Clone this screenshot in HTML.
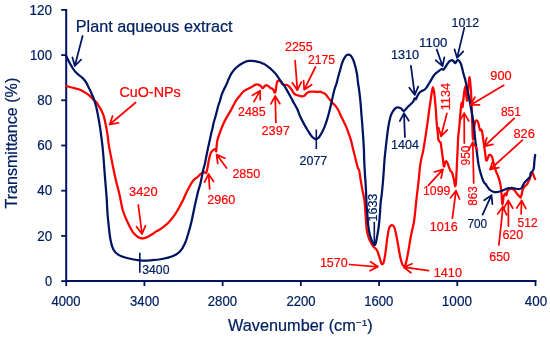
<!DOCTYPE html>
<html><head><meta charset="utf-8"><style>
html,body{margin:0;padding:0;background:#fff;}
body{width:550px;height:338px;overflow:hidden;}
svg{display:block;}
text{font-family:"Liberation Sans","DejaVu Sans",sans-serif;stroke-width:0.2px;paint-order:stroke;}
</style></head><body>
<svg width="550" height="338" viewBox="0 0 550 338">
<rect width="550" height="338" fill="#fff"/>

<path d="M66.2,9.9 V281.1 H535.5" fill="none" stroke="#001462" stroke-width="2" stroke-linecap="square"/>
<line x1="61.2" y1="281.10" x2="66.2" y2="281.10" stroke="#001462" stroke-width="1.8"/>
<line x1="61.2" y1="235.90" x2="66.2" y2="235.90" stroke="#001462" stroke-width="1.8"/>
<line x1="61.2" y1="190.70" x2="66.2" y2="190.70" stroke="#001462" stroke-width="1.8"/>
<line x1="61.2" y1="145.50" x2="66.2" y2="145.50" stroke="#001462" stroke-width="1.8"/>
<line x1="61.2" y1="100.30" x2="66.2" y2="100.30" stroke="#001462" stroke-width="1.8"/>
<line x1="61.2" y1="55.10" x2="66.2" y2="55.10" stroke="#001462" stroke-width="1.8"/>
<line x1="61.2" y1="9.90" x2="66.2" y2="9.90" stroke="#001462" stroke-width="1.8"/>
<line x1="66.20" y1="281.1" x2="66.20" y2="286.1" stroke="#001462" stroke-width="1.8"/>
<line x1="144.42" y1="281.1" x2="144.42" y2="286.1" stroke="#001462" stroke-width="1.8"/>
<line x1="222.63" y1="281.1" x2="222.63" y2="286.1" stroke="#001462" stroke-width="1.8"/>
<line x1="300.85" y1="281.1" x2="300.85" y2="286.1" stroke="#001462" stroke-width="1.8"/>
<line x1="379.07" y1="281.1" x2="379.07" y2="286.1" stroke="#001462" stroke-width="1.8"/>
<line x1="457.28" y1="281.1" x2="457.28" y2="286.1" stroke="#001462" stroke-width="1.8"/>
<line x1="535.50" y1="281.1" x2="535.50" y2="286.1" stroke="#001462" stroke-width="1.8"/>
<path d="M66.20,86.00 C66.82,86.17 68.53,86.63 69.90,87.00 C71.27,87.37 72.92,87.82 74.40,88.20 C75.88,88.58 77.32,88.75 78.80,89.30 C80.28,89.85 81.82,90.70 83.30,91.50 C84.78,92.30 86.35,93.12 87.70,94.10 C89.05,95.08 90.35,96.38 91.40,97.40 C92.45,98.42 93.13,99.35 94.00,100.20 C94.87,101.05 95.72,101.37 96.60,102.50 C97.48,103.63 98.42,105.52 99.30,107.00 C100.18,108.48 101.17,109.93 101.90,111.40 C102.63,112.87 103.18,114.17 103.70,115.80 C104.22,117.43 104.55,119.12 105.00,121.20 C105.45,123.28 105.97,126.00 106.40,128.30 C106.83,130.60 107.20,132.22 107.60,135.00 C108.00,137.78 108.38,142.17 108.80,145.00 C109.22,147.83 109.48,148.80 110.10,152.00 C110.72,155.20 111.52,159.40 112.50,164.20 C113.48,169.00 114.82,175.67 116.00,180.80 C117.18,185.93 118.47,190.08 119.60,195.00 C120.73,199.92 121.58,206.02 122.80,210.30 C124.02,214.58 125.35,217.25 126.90,220.70 C128.45,224.15 130.75,228.70 132.10,231.00 C133.45,233.30 134.10,233.55 135.00,234.50 C135.90,235.45 136.60,236.10 137.50,236.70 C138.40,237.30 139.28,237.87 140.40,238.10 C141.52,238.33 142.92,238.33 144.20,238.10 C145.48,237.87 146.65,237.42 148.10,236.70 C149.55,235.98 151.60,234.65 152.90,233.80 C154.20,232.95 154.93,232.20 155.90,231.60 C156.87,231.00 157.67,230.82 158.70,230.20 C159.73,229.58 160.50,229.13 162.10,227.90 C163.70,226.67 166.20,224.98 168.30,222.80 C170.40,220.62 173.02,217.12 174.70,214.80 C176.38,212.48 177.30,210.78 178.40,208.90 C179.50,207.02 180.43,205.15 181.30,203.50 C182.17,201.85 182.88,200.53 183.60,199.00 C184.32,197.47 184.78,196.07 185.60,194.30 C186.42,192.53 187.55,190.23 188.50,188.40 C189.45,186.57 190.37,184.77 191.30,183.30 C192.23,181.83 193.03,180.68 194.10,179.60 C195.17,178.52 196.63,177.70 197.70,176.80 C198.77,175.90 199.55,174.95 200.50,174.20 C201.45,173.45 202.62,172.57 203.40,172.30 C204.18,172.03 204.73,172.52 205.20,172.60 C205.67,172.68 205.83,173.48 206.20,172.80 C206.57,172.12 207.02,170.30 207.40,168.50 C207.78,166.70 207.97,164.53 208.50,162.00 C209.03,159.47 209.80,155.30 210.60,153.30 C211.40,151.30 212.52,150.67 213.30,150.00 C214.08,149.33 214.82,149.08 215.30,149.30 C215.78,149.52 215.97,151.97 216.20,151.30 C216.43,150.63 216.47,147.27 216.70,145.30 C216.93,143.33 217.08,141.57 217.60,139.50 C218.12,137.43 218.85,135.48 219.80,132.90 C220.75,130.32 222.12,126.67 223.30,124.00 C224.48,121.33 225.58,119.27 226.90,116.90 C228.22,114.53 229.68,112.52 231.20,109.80 C232.72,107.08 234.62,102.87 236.00,100.60 C237.38,98.33 238.32,97.68 239.50,96.20 C240.68,94.72 241.92,92.82 243.10,91.70 C244.28,90.58 245.27,90.23 246.60,89.50 C247.93,88.77 249.62,88.12 251.10,87.30 C252.58,86.48 254.32,85.05 255.50,84.60 C256.68,84.15 257.32,84.37 258.20,84.60 C259.08,84.83 260.07,85.40 260.80,86.00 C261.53,86.60 261.93,88.20 262.60,88.20 C263.27,88.20 264.13,86.52 264.80,86.00 C265.47,85.48 265.93,85.03 266.60,85.10 C267.27,85.17 268.13,85.88 268.80,86.40 C269.47,86.92 270.00,87.83 270.60,88.20 C271.20,88.57 271.88,88.23 272.40,88.60 C272.92,88.97 273.33,89.73 273.70,90.40 C274.07,91.07 274.30,92.38 274.60,92.60 C274.90,92.82 275.20,92.88 275.50,91.70 C275.80,90.52 276.10,87.20 276.40,85.50 C276.70,83.80 276.93,82.30 277.30,81.50 C277.67,80.70 278.08,80.72 278.60,80.70 C279.12,80.68 279.77,80.85 280.40,81.40 C281.03,81.95 281.72,83.40 282.40,84.00 C283.08,84.60 283.72,84.83 284.50,85.00 C285.28,85.17 286.23,84.65 287.10,85.00 C287.97,85.35 288.93,86.32 289.70,87.10 C290.47,87.88 291.02,88.67 291.70,89.70 C292.38,90.73 293.10,92.45 293.80,93.30 C294.50,94.15 295.20,94.45 295.90,94.80 C296.60,95.15 297.32,95.22 298.00,95.40 C298.68,95.58 299.32,95.73 300.00,95.90 C300.68,96.07 301.40,96.40 302.10,96.40 C302.80,96.40 303.60,96.25 304.20,95.90 C304.80,95.55 305.18,94.82 305.70,94.30 C306.22,93.78 306.70,93.20 307.30,92.80 C307.90,92.40 308.62,92.08 309.30,91.90 C309.98,91.72 310.53,91.73 311.40,91.70 C312.27,91.67 313.47,91.67 314.50,91.70 C315.53,91.73 316.68,91.90 317.60,91.90 C318.52,91.90 319.32,91.65 320.00,91.70 C320.68,91.75 320.82,91.82 321.70,92.20 C322.58,92.58 324.12,92.97 325.30,94.00 C326.48,95.03 327.62,96.93 328.80,98.40 C329.98,99.87 331.22,101.47 332.40,102.80 C333.58,104.13 334.87,105.07 335.90,106.40 C336.93,107.73 337.67,109.02 338.60,110.80 C339.53,112.58 340.43,114.87 341.50,117.10 C342.57,119.33 344.02,122.08 345.00,124.20 C345.98,126.32 346.45,127.27 347.40,129.80 C348.35,132.33 349.72,136.03 350.70,139.40 C351.68,142.77 352.42,146.45 353.30,150.00 C354.18,153.55 355.25,157.73 356.00,160.70 C356.75,163.67 357.27,166.18 357.80,167.80 C358.33,169.42 358.77,168.63 359.20,170.40 C359.63,172.17 359.90,175.30 360.40,178.40 C360.90,181.50 361.53,185.40 362.20,189.00 C362.87,192.60 363.83,195.70 364.40,200.00 C364.97,204.30 365.22,209.87 365.60,214.80 C365.98,219.73 366.15,225.65 366.70,229.60 C367.25,233.55 368.03,236.03 368.90,238.50 C369.77,240.97 371.12,243.02 371.90,244.40 C372.68,245.78 372.78,245.87 373.60,246.80 C374.42,247.73 375.87,248.40 376.80,250.00 C377.73,251.60 378.53,254.40 379.20,256.40 C379.87,258.40 380.27,260.67 380.80,262.00 C381.33,263.33 381.87,264.53 382.40,264.40 C382.93,264.27 383.47,263.33 384.00,261.20 C384.53,259.07 385.07,255.33 385.60,251.60 C386.13,247.87 386.67,242.53 387.20,238.80 C387.73,235.07 388.27,231.33 388.80,229.20 C389.33,227.07 389.78,226.67 390.40,226.00 C391.02,225.33 391.83,224.93 392.50,225.20 C393.17,225.47 393.82,226.13 394.40,227.60 C394.98,229.07 395.47,231.60 396.00,234.00 C396.53,236.40 397.07,239.07 397.60,242.00 C398.13,244.93 398.67,248.67 399.20,251.60 C399.73,254.53 400.27,257.47 400.80,259.60 C401.33,261.73 401.87,263.33 402.40,264.40 C402.93,265.47 403.47,266.00 404.00,266.00 C404.53,266.00 404.93,266.53 405.60,264.40 C406.27,262.27 407.20,257.47 408.00,253.20 C408.80,248.93 409.73,242.53 410.40,238.80 C411.07,235.07 411.40,233.63 412.00,230.80 C412.60,227.97 413.43,225.35 414.00,221.80 C414.57,218.25 414.97,213.48 415.40,209.50 C415.83,205.52 416.08,202.50 416.60,197.90 C417.12,193.30 417.92,187.22 418.50,181.90 C419.08,176.58 419.60,169.98 420.10,166.00 C420.60,162.02 421.03,160.27 421.50,158.00 C421.97,155.73 422.37,155.12 422.90,152.40 C423.43,149.68 424.10,145.45 424.70,141.70 C425.30,137.95 425.97,133.52 426.50,129.90 C427.03,126.28 427.47,123.20 427.90,120.00 C428.33,116.80 428.70,113.62 429.10,110.70 C429.50,107.78 429.90,105.25 430.30,102.50 C430.70,99.75 431.17,96.37 431.50,94.20 C431.83,92.03 432.07,90.68 432.30,89.50 C432.53,88.32 432.68,87.10 432.90,87.10 C433.12,87.10 433.35,88.32 433.60,89.50 C433.85,90.68 434.13,92.03 434.40,94.20 C434.67,96.37 434.95,99.75 435.20,102.50 C435.45,105.25 435.70,107.95 435.90,110.70 C436.10,113.45 436.23,116.53 436.40,119.00 C436.57,121.47 436.68,123.30 436.90,125.50 C437.12,127.70 437.47,129.95 437.70,132.20 C437.93,134.45 438.00,137.42 438.30,139.00 C438.60,140.58 439.10,141.05 439.50,141.70 C439.90,142.35 440.37,141.72 440.70,142.90 C441.03,144.08 441.20,146.62 441.50,148.80 C441.80,150.98 442.25,154.22 442.50,156.00 C442.75,157.78 442.75,157.73 443.00,159.50 C443.25,161.27 443.62,166.15 444.00,166.60 C444.38,167.05 444.88,163.08 445.30,162.20 C445.72,161.32 446.07,161.00 446.50,161.30 C446.93,161.60 447.42,162.82 447.90,164.00 C448.38,165.18 448.95,167.22 449.40,168.40 C449.85,169.58 450.20,170.50 450.60,171.10 C451.00,171.70 451.42,171.27 451.80,172.00 C452.18,172.73 452.50,173.98 452.90,175.50 C453.30,177.02 453.88,179.55 454.20,181.10 C454.52,182.65 454.60,183.97 454.80,184.80 C455.00,185.63 455.20,186.52 455.40,186.10 C455.60,185.68 455.83,184.17 456.00,182.30 C456.17,180.43 456.25,177.80 456.40,174.90 C456.55,172.00 456.75,168.02 456.90,164.90 C457.05,161.78 457.17,159.02 457.30,156.20 C457.43,153.38 457.55,151.20 457.70,148.00 C457.85,144.80 457.93,140.53 458.20,137.00 C458.47,133.47 458.92,130.97 459.30,126.80 C459.68,122.63 460.10,116.02 460.50,112.00 C460.90,107.98 461.35,103.53 461.70,102.70 C462.05,101.87 462.30,107.78 462.60,107.00 C462.90,106.22 463.07,101.43 463.50,98.00 C463.93,94.57 464.70,86.40 465.20,86.40 C465.70,86.40 466.15,95.73 466.50,98.00 C466.85,100.27 467.00,101.67 467.30,100.00 C467.60,98.33 467.92,91.82 468.30,88.00 C468.68,84.18 469.17,76.77 469.60,77.10 C470.03,77.43 470.57,85.35 470.90,90.00 C471.23,94.65 471.37,99.17 471.60,105.00 C471.83,110.83 472.10,119.50 472.30,125.00 C472.50,130.50 472.58,135.83 472.80,138.00 C473.02,140.17 473.33,140.00 473.60,138.00 C473.87,136.00 474.12,128.75 474.40,126.00 C474.68,123.25 474.85,122.40 475.30,121.50 C475.75,120.60 476.58,120.30 477.10,120.60 C477.62,120.90 478.03,122.12 478.40,123.30 C478.77,124.48 479.00,126.52 479.30,127.70 C479.60,128.88 479.90,130.10 480.20,130.40 C480.50,130.70 480.80,129.35 481.10,129.50 C481.40,129.65 481.63,129.55 482.00,131.30 C482.37,133.05 482.93,137.48 483.30,140.00 C483.67,142.52 483.90,144.30 484.20,146.40 C484.50,148.50 484.75,150.25 485.10,152.60 C485.45,154.95 485.85,159.57 486.30,160.50 C486.75,161.43 487.28,159.13 487.80,158.20 C488.32,157.27 488.72,155.17 489.40,154.90 C490.08,154.63 491.20,155.22 491.90,156.60 C492.60,157.98 493.05,161.13 493.60,163.20 C494.15,165.27 494.72,167.45 495.20,169.00 C495.68,170.55 495.97,171.17 496.50,172.50 C497.03,173.83 497.88,175.58 498.40,177.00 C498.92,178.42 499.23,179.58 499.60,181.00 C499.97,182.42 500.28,183.42 500.60,185.50 C500.92,187.58 501.27,190.98 501.50,193.50 C501.73,196.02 501.82,198.77 502.00,200.60 C502.18,202.43 502.40,204.60 502.60,204.50 C502.80,204.40 503.02,201.38 503.20,200.00 C503.38,198.62 503.38,197.28 503.70,196.20 C504.02,195.12 504.65,193.65 505.10,193.50 C505.55,193.35 506.03,195.60 506.40,195.30 C506.77,195.00 507.00,192.58 507.30,191.70 C507.60,190.82 507.75,190.43 508.20,190.00 C508.65,189.57 509.27,189.25 510.00,189.10 C510.73,188.95 511.87,188.95 512.60,189.10 C513.33,189.25 513.80,189.42 514.40,190.00 C515.00,190.58 515.60,191.78 516.20,192.60 C516.80,193.42 517.42,194.23 518.00,194.90 C518.58,195.57 519.27,196.17 519.70,196.60 C520.13,197.03 520.30,197.72 520.60,197.50 C520.90,197.28 521.20,196.40 521.50,195.30 C521.80,194.20 522.10,192.08 522.40,190.90 C522.70,189.72 522.93,188.95 523.30,188.20 C523.67,187.45 524.17,186.85 524.60,186.40 C525.03,185.95 525.45,185.93 525.90,185.50 C526.35,185.07 526.85,184.53 527.30,183.80 C527.75,183.07 528.15,182.00 528.60,181.10 C529.05,180.20 529.63,179.32 530.00,178.40 C530.37,177.48 530.37,176.52 530.80,175.60 C531.23,174.68 532.02,172.62 532.60,172.90 C533.18,173.18 533.87,176.27 534.30,177.30 C534.73,178.33 535.05,178.80 535.20,179.10" fill="none" stroke="#FF0000" stroke-width="2.25" stroke-linejoin="round" stroke-linecap="round"/>
<path d="M66.20,55.90 C66.57,56.65 67.65,58.92 68.40,60.40 C69.15,61.88 69.95,63.45 70.70,64.80 C71.45,66.15 72.17,67.38 72.90,68.50 C73.63,69.62 74.23,70.52 75.10,71.50 C75.97,72.48 77.12,73.53 78.10,74.40 C79.08,75.27 80.02,75.83 81.00,76.70 C81.98,77.57 83.13,78.62 84.00,79.60 C84.87,80.58 85.47,81.37 86.20,82.60 C86.93,83.83 87.65,85.52 88.40,87.00 C89.15,88.48 89.95,89.88 90.70,91.50 C91.45,93.12 92.28,95.20 92.90,96.70 C93.52,98.20 93.78,98.52 94.40,100.50 C95.02,102.48 95.93,105.75 96.60,108.60 C97.27,111.45 97.80,114.32 98.40,117.60 C99.00,120.88 99.52,123.52 100.20,128.30 C100.88,133.08 101.92,141.02 102.50,146.30 C103.08,151.58 103.33,155.43 103.70,160.00 C104.07,164.57 104.22,167.48 104.70,173.70 C105.18,179.92 106.15,190.92 106.60,197.30 C107.05,203.68 107.12,207.88 107.40,212.00 C107.68,216.12 107.80,217.45 108.30,222.00 C108.80,226.55 109.53,234.68 110.40,239.30 C111.27,243.92 112.13,247.10 113.50,249.70 C114.87,252.30 116.37,253.52 118.60,254.90 C120.83,256.28 123.45,257.08 126.90,258.00 C130.35,258.92 135.15,260.03 139.30,260.40 C143.45,260.77 148.00,260.43 151.80,260.20 C155.60,259.97 158.65,259.65 162.10,259.00 C165.55,258.35 169.57,257.50 172.50,256.30 C175.43,255.10 177.63,253.93 179.70,251.80 C181.77,249.67 183.35,246.97 184.90,243.50 C186.45,240.03 187.87,234.80 189.00,231.00 C190.13,227.20 190.95,223.88 191.70,220.70 C192.45,217.52 192.90,214.77 193.50,211.90 C194.10,209.03 194.80,205.77 195.30,203.50 C195.80,201.23 196.02,200.38 196.50,198.30 C196.98,196.22 197.57,193.38 198.20,191.00 C198.83,188.62 199.70,186.33 200.30,184.00 C200.90,181.67 201.32,179.33 201.80,177.00 C202.28,174.67 202.70,172.17 203.20,170.00 C203.70,167.83 204.33,166.00 204.80,164.00 C205.27,162.00 205.60,160.00 206.00,158.00 C206.40,156.00 206.75,154.17 207.20,152.00 C207.65,149.83 208.22,147.22 208.70,145.00 C209.18,142.78 209.63,140.82 210.10,138.70 C210.57,136.58 211.08,134.08 211.50,132.30 C211.92,130.52 212.25,129.55 212.60,128.00 C212.95,126.45 213.13,124.88 213.60,123.00 C214.07,121.12 214.82,118.82 215.40,116.70 C215.98,114.58 216.63,112.08 217.10,110.30 C217.57,108.52 217.73,107.55 218.20,106.00 C218.67,104.45 219.32,102.88 219.90,101.00 C220.48,99.12 221.05,96.58 221.70,94.70 C222.35,92.82 223.00,91.42 223.80,89.70 C224.60,87.98 225.68,86.18 226.50,84.40 C227.32,82.62 227.90,80.78 228.70,79.00 C229.50,77.22 230.27,75.38 231.30,73.70 C232.33,72.02 233.72,70.22 234.90,68.90 C236.08,67.58 237.22,66.70 238.40,65.80 C239.58,64.90 240.82,64.17 242.00,63.50 C243.18,62.83 244.33,62.23 245.50,61.80 C246.67,61.37 247.82,61.07 249.00,60.90 C250.18,60.73 251.42,60.73 252.60,60.80 C253.78,60.87 254.92,61.07 256.10,61.30 C257.28,61.53 258.72,61.88 259.70,62.20 C260.68,62.52 261.10,62.80 262.00,63.20 C262.90,63.60 264.00,63.95 265.10,64.60 C266.20,65.25 267.42,66.17 268.60,67.10 C269.78,68.03 271.02,69.07 272.20,70.20 C273.38,71.33 274.67,72.65 275.70,73.90 C276.73,75.15 277.52,76.47 278.40,77.70 C279.28,78.93 280.40,80.43 281.00,81.30 C281.60,82.17 281.38,82.05 282.00,82.90 C282.62,83.75 283.82,85.07 284.70,86.40 C285.58,87.73 286.42,89.35 287.30,90.90 C288.18,92.45 289.12,94.08 290.00,95.70 C290.88,97.32 291.72,98.97 292.60,100.60 C293.48,102.23 294.48,104.02 295.30,105.50 C296.12,106.98 296.72,107.75 297.50,109.50 C298.28,111.25 299.08,113.90 300.00,116.00 C300.92,118.10 301.98,120.17 303.00,122.10 C304.02,124.03 305.08,125.85 306.10,127.60 C307.12,129.35 308.10,131.08 309.10,132.60 C310.10,134.12 311.18,135.68 312.10,136.70 C313.02,137.72 313.93,138.28 314.60,138.70 C315.27,139.12 315.52,139.28 316.10,139.20 C316.68,139.12 317.43,138.78 318.10,138.20 C318.77,137.62 319.33,136.88 320.10,135.70 C320.87,134.52 321.85,132.87 322.70,131.10 C323.55,129.33 324.45,127.10 325.20,125.10 C325.95,123.10 326.53,121.28 327.20,119.10 C327.87,116.92 328.67,114.02 329.20,112.00 C329.73,109.98 329.97,108.83 330.40,107.00 C330.83,105.17 331.15,103.83 331.80,101.00 C332.45,98.17 333.50,92.97 334.30,90.00 C335.10,87.03 335.97,85.33 336.60,83.20 C337.23,81.07 337.52,79.38 338.10,77.20 C338.68,75.02 339.43,72.45 340.10,70.10 C340.77,67.75 341.43,65.02 342.10,63.10 C342.77,61.18 343.43,59.87 344.10,58.60 C344.77,57.33 345.35,56.18 346.10,55.50 C346.85,54.82 347.85,54.50 348.60,54.50 C349.35,54.50 349.93,54.82 350.60,55.50 C351.27,56.18 352.00,57.42 352.60,58.60 C353.20,59.78 353.68,61.02 354.20,62.60 C354.72,64.18 355.20,66.00 355.70,68.10 C356.20,70.20 356.83,72.88 357.20,75.20 C357.57,77.52 357.60,79.68 357.90,82.00 C358.20,84.32 358.65,86.53 359.00,89.10 C359.35,91.67 359.70,94.63 360.00,97.40 C360.30,100.17 360.57,102.93 360.80,105.70 C361.03,108.47 361.20,111.45 361.40,114.00 C361.60,116.55 361.77,118.02 362.00,121.00 C362.23,123.98 362.53,128.12 362.80,131.90 C363.07,135.68 363.40,140.35 363.60,143.70 C363.80,147.05 363.90,149.28 364.00,152.00 C364.10,154.72 364.07,156.70 364.20,160.00 C364.33,163.30 364.57,167.85 364.80,171.80 C365.03,175.75 365.37,179.75 365.60,183.70 C365.83,187.65 366.03,191.95 366.20,195.50 C366.37,199.05 366.42,201.92 366.60,205.00 C366.78,208.08 367.02,210.50 367.30,214.00 C367.58,217.50 367.85,222.42 368.30,226.00 C368.75,229.58 369.22,232.62 370.00,235.50 C370.78,238.38 372.25,241.72 373.00,243.30 C373.75,244.88 374.07,244.92 374.50,245.00 C374.93,245.08 375.13,245.38 375.60,243.80 C376.07,242.22 376.77,238.47 377.30,235.50 C377.83,232.53 378.37,229.58 378.80,226.00 C379.23,222.42 379.60,217.83 379.90,214.00 C380.20,210.17 380.32,206.08 380.60,203.00 C380.88,199.92 381.23,198.72 381.60,195.50 C381.97,192.28 382.45,187.65 382.80,183.70 C383.15,179.75 383.42,175.75 383.70,171.80 C383.98,167.85 384.23,163.30 384.50,160.00 C384.77,156.70 384.97,155.13 385.30,152.00 C385.63,148.87 386.00,145.37 386.50,141.20 C387.00,137.03 387.62,131.15 388.30,127.00 C388.98,122.85 389.82,118.95 390.60,116.30 C391.38,113.65 392.00,112.57 393.00,111.10 C394.00,109.63 395.60,108.08 396.60,107.50 C397.60,106.92 398.22,107.40 399.00,107.60 C399.78,107.80 400.52,108.12 401.30,108.70 C402.08,109.28 402.90,111.10 403.70,111.10 C404.50,111.10 405.12,109.68 406.10,108.70 C407.08,107.72 408.42,106.38 409.60,105.20 C410.78,104.02 412.37,102.73 413.20,101.60 C414.03,100.47 414.17,98.78 414.60,98.40 C415.03,98.02 415.38,99.63 415.80,99.30 C416.22,98.97 416.62,97.33 417.10,96.40 C417.58,95.47 418.10,94.48 418.70,93.70 C419.30,92.92 419.93,92.27 420.70,91.70 C421.47,91.13 422.53,90.75 423.30,90.30 C424.07,89.85 424.63,89.67 425.30,89.00 C425.97,88.33 426.63,87.30 427.30,86.30 C427.97,85.30 428.63,84.10 429.30,83.00 C429.97,81.90 430.63,80.82 431.30,79.70 C431.97,78.58 432.63,77.30 433.30,76.30 C433.97,75.30 434.52,74.47 435.30,73.70 C436.08,72.93 437.18,72.33 438.00,71.70 C438.82,71.07 439.52,70.35 440.20,69.90 C440.88,69.45 441.53,69.05 442.10,69.00 C442.67,68.95 443.08,69.88 443.60,69.60 C444.12,69.32 444.60,68.20 445.20,67.30 C445.80,66.40 446.52,65.18 447.20,64.20 C447.88,63.22 448.60,62.05 449.30,61.40 C450.00,60.75 450.80,60.45 451.40,60.30 C452.00,60.15 452.38,60.12 452.90,60.50 C453.42,60.88 454.07,62.17 454.50,62.60 C454.93,63.03 455.15,63.35 455.50,63.10 C455.85,62.85 456.17,61.62 456.60,61.10 C457.03,60.58 457.58,59.92 458.10,60.00 C458.62,60.08 459.18,60.82 459.70,61.60 C460.22,62.38 460.77,63.50 461.20,64.70 C461.63,65.90 461.95,67.42 462.30,68.80 C462.65,70.18 462.97,71.70 463.30,73.00 C463.63,74.30 463.95,75.35 464.30,76.60 C464.65,77.85 464.83,78.12 465.40,80.50 C465.97,82.88 466.93,87.18 467.70,90.90 C468.47,94.62 469.22,98.65 470.00,102.80 C470.78,106.95 471.80,112.27 472.40,115.80 C473.00,119.33 473.12,119.97 473.60,124.00 C474.08,128.03 474.73,135.12 475.30,140.00 C475.87,144.88 476.45,149.15 477.00,153.30 C477.55,157.45 477.92,161.32 478.60,164.90 C479.28,168.48 480.28,172.03 481.10,174.80 C481.92,177.57 482.68,179.87 483.50,181.50 C484.32,183.13 485.28,183.63 486.00,184.60 C486.72,185.57 487.13,186.40 487.80,187.30 C488.47,188.20 489.12,189.27 490.00,190.00 C490.88,190.73 492.00,191.33 493.10,191.70 C494.20,192.07 495.42,192.27 496.60,192.20 C497.78,192.13 499.02,191.67 500.20,191.30 C501.38,190.93 502.52,190.45 503.70,190.00 C504.88,189.55 505.97,188.97 507.30,188.60 C508.63,188.23 510.37,187.80 511.70,187.80 C513.03,187.80 514.12,188.38 515.30,188.60 C516.48,188.82 517.77,189.17 518.80,189.10 C519.83,189.03 520.75,188.95 521.50,188.20 C522.25,187.45 522.72,185.63 523.30,184.60 C523.88,183.57 524.42,182.73 525.00,182.00 C525.58,181.27 526.20,180.80 526.80,180.20 C527.40,179.60 528.07,178.98 528.60,178.40 C529.13,177.82 529.63,177.60 530.00,176.70 C530.37,175.80 530.37,173.95 530.80,173.00 C531.23,172.05 532.10,171.77 532.60,171.00 C533.10,170.23 533.48,170.23 533.80,168.40 C534.12,166.57 534.27,162.23 534.50,160.00 C534.73,157.77 535.08,155.83 535.20,155.00" fill="none" stroke="#001462" stroke-width="2.25" stroke-linejoin="round" stroke-linecap="round"/>
<path d="M82.6,36.0 L74.8,66.0 M81.1,59.6 L74.8,66.0 L72.4,57.3" fill="none" stroke="#001462" stroke-width="1.75" stroke-linecap="round" stroke-linejoin="round"/>
<path d="M135.6,102.5 L109.6,124.5 M118.5,122.9 L109.6,124.5 L112.6,116.0" fill="none" stroke="#FF0000" stroke-width="1.75" stroke-linecap="round" stroke-linejoin="round"/>
<path d="M138.3,205.0 L142.0,234.0 M145.5,225.7 L142.0,234.0 L136.5,226.8" fill="none" stroke="#FF0000" stroke-width="1.75" stroke-linecap="round" stroke-linejoin="round"/>
<path d="M209.7,189.0 L208.5,174.0 M204.6,182.1 L208.5,174.0 L213.6,181.4" fill="none" stroke="#FF0000" stroke-width="1.75" stroke-linecap="round" stroke-linejoin="round"/>
<path d="M226.6,168.0 L216.6,154.6 M217.7,163.5 L216.6,154.6 L224.9,158.2" fill="none" stroke="#FF0000" stroke-width="1.75" stroke-linecap="round" stroke-linejoin="round"/>
<path d="M254.0,101.7 L260.1,90.7 M252.4,95.3 L260.1,90.7 L260.3,99.7" fill="none" stroke="#FF0000" stroke-width="1.75" stroke-linecap="round" stroke-linejoin="round"/>
<path d="M275.9,122.4 L275.2,96.0 M270.9,103.9 L275.2,96.0 L279.9,103.7" fill="none" stroke="#FF0000" stroke-width="1.75" stroke-linecap="round" stroke-linejoin="round"/>
<path d="M295.1,60.7 L297.4,90.2 M301.3,82.1 L297.4,90.2 L292.3,82.8" fill="none" stroke="#FF0000" stroke-width="1.75" stroke-linecap="round" stroke-linejoin="round"/>
<path d="M315.5,67.0 L304.2,89.7 M311.7,84.7 L304.2,89.7 L303.6,80.7" fill="none" stroke="#FF0000" stroke-width="1.75" stroke-linecap="round" stroke-linejoin="round"/>
<path d="M349.5,264.5 L378.0,266.8 M370.6,261.7 L378.0,266.8 L369.9,270.7" fill="none" stroke="#FF0000" stroke-width="1.75" stroke-linecap="round" stroke-linejoin="round"/>
<path d="M428.6,270.6 L403.8,267.2 M410.9,272.7 L403.8,267.2 L412.1,263.8" fill="none" stroke="#FF0000" stroke-width="1.75" stroke-linecap="round" stroke-linejoin="round"/>
<path d="M410.9,65.9 L414.8,94.9 M418.2,86.6 L414.8,94.9 L409.3,87.8" fill="none" stroke="#001462" stroke-width="1.75" stroke-linecap="round" stroke-linejoin="round"/>
<path d="M436.8,49.6 L442.6,66.2 M444.3,57.4 L442.6,66.2 L435.8,60.3" fill="none" stroke="#001462" stroke-width="1.75" stroke-linecap="round" stroke-linejoin="round"/>
<path d="M464.3,27.9 L457.1,57.9 M463.3,51.4 L457.1,57.9 L454.5,49.3" fill="none" stroke="#001462" stroke-width="1.75" stroke-linecap="round" stroke-linejoin="round"/>
<path d="M404.9,137.0 L404.0,113.1 M399.8,121.1 L404.0,113.1 L408.8,120.7" fill="none" stroke="#001462" stroke-width="1.75" stroke-linecap="round" stroke-linejoin="round"/>
<path d="M446.9,113.4 L441.0,136.3 M447.3,129.9 L441.0,136.3 L438.6,127.6" fill="none" stroke="#FF0000" stroke-width="1.75" stroke-linecap="round" stroke-linejoin="round"/>
<path d="M428.4,185.3 L443.0,169.3 M434.4,172.0 L443.0,169.3 L441.1,178.1" fill="none" stroke="#FF0000" stroke-width="1.75" stroke-linecap="round" stroke-linejoin="round"/>
<path d="M452.4,218.2 L456.0,190.7 M450.5,197.8 L456.0,190.7 L459.5,199.0" fill="none" stroke="#FF0000" stroke-width="1.75" stroke-linecap="round" stroke-linejoin="round"/>
<path d="M464.3,143.0 L464.2,113.1 M459.7,120.9 L464.2,113.1 L468.7,120.9" fill="none" stroke="#FF0000" stroke-width="1.75" stroke-linecap="round" stroke-linejoin="round"/>
<path d="M503.8,85.3 L470.5,105.0 M479.5,104.9 L470.5,105.0 L474.9,97.2" fill="none" stroke="#FF0000" stroke-width="1.75" stroke-linecap="round" stroke-linejoin="round"/>
<path d="M473.7,183.0 L472.8,142.2 M468.5,150.1 L472.8,142.2 L477.5,149.9" fill="none" stroke="#FF0000" stroke-width="1.75" stroke-linecap="round" stroke-linejoin="round"/>
<path d="M514.2,118.4 L484.2,146.4 M493.0,144.4 L484.2,146.4 L486.8,137.8" fill="none" stroke="#FF0000" stroke-width="1.75" stroke-linecap="round" stroke-linejoin="round"/>
<path d="M522.4,140.2 L490.0,169.5 M498.8,167.6 L490.0,169.5 L492.8,160.9" fill="none" stroke="#FF0000" stroke-width="1.75" stroke-linecap="round" stroke-linejoin="round"/>
<path d="M482.6,214.6 L491.5,195.1 M484.2,200.3 L491.5,195.1 L492.4,204.1" fill="none" stroke="#001462" stroke-width="1.75" stroke-linecap="round" stroke-linejoin="round"/>
<path d="M498.9,245.0 L503.0,206.6 M497.7,213.9 L503.0,206.6 L506.6,214.8" fill="none" stroke="#FF0000" stroke-width="1.75" stroke-linecap="round" stroke-linejoin="round"/>
<path d="M508.4,226.1 L508.3,200.4 M503.8,208.2 L508.3,200.4 L512.8,208.2" fill="none" stroke="#FF0000" stroke-width="1.75" stroke-linecap="round" stroke-linejoin="round"/>
<path d="M521.1,213.9 L521.6,200.4 M516.8,208.0 L521.6,200.4 L525.8,208.4" fill="none" stroke="#FF0000" stroke-width="1.75" stroke-linecap="round" stroke-linejoin="round"/>
<line x1="139.8" y1="252.8" x2="139.8" y2="272.7" stroke="#001462" stroke-width="1.6"/>
<line x1="316.3" y1="129.5" x2="316.3" y2="149" stroke="#001462" stroke-width="1.6"/>
<line x1="374.3" y1="221.8" x2="374.3" y2="245" stroke="#001462" stroke-width="1.6"/>
<text x="45.10" y="285.80" font-size="14.00" fill="#002060" stroke="#002060" textLength="7.13" lengthAdjust="spacingAndGlyphs">0</text>
<text x="37.20" y="240.60" font-size="14.00" fill="#002060" stroke="#002060" textLength="14.93" lengthAdjust="spacingAndGlyphs">20</text>
<text x="37.20" y="195.40" font-size="14.00" fill="#002060" stroke="#002060" textLength="14.93" lengthAdjust="spacingAndGlyphs">40</text>
<text x="37.20" y="150.20" font-size="14.00" fill="#002060" stroke="#002060" textLength="14.93" lengthAdjust="spacingAndGlyphs">60</text>
<text x="37.20" y="105.00" font-size="14.00" fill="#002060" stroke="#002060" textLength="14.93" lengthAdjust="spacingAndGlyphs">80</text>
<text x="30.00" y="59.80" font-size="14.00" fill="#002060" stroke="#002060" textLength="22.05" lengthAdjust="spacingAndGlyphs">100</text>
<text x="29.60" y="14.60" font-size="14.00" fill="#002060" stroke="#002060" textLength="22.46" lengthAdjust="spacingAndGlyphs">120</text>
<text x="51.40" y="305.60" font-size="14.00" fill="#002060" stroke="#002060" textLength="29.03" lengthAdjust="spacingAndGlyphs">4000</text>
<text x="130.08" y="305.60" font-size="14.00" fill="#002060" stroke="#002060" textLength="29.16" lengthAdjust="spacingAndGlyphs">3400</text>
<text x="207.77" y="305.60" font-size="14.00" fill="#002060" stroke="#002060" textLength="29.26" lengthAdjust="spacingAndGlyphs">2800</text>
<text x="286.45" y="305.60" font-size="14.00" fill="#002060" stroke="#002060" textLength="29.16" lengthAdjust="spacingAndGlyphs">2200</text>
<text x="364.13" y="305.60" font-size="14.00" fill="#002060" stroke="#002060" textLength="29.13" lengthAdjust="spacingAndGlyphs">1600</text>
<text x="441.82" y="305.60" font-size="14.00" fill="#002060" stroke="#002060" textLength="30.17" lengthAdjust="spacingAndGlyphs">1000</text>
<text x="524.85" y="305.60" font-size="14.00" fill="#002060" stroke="#002060" textLength="22.37" lengthAdjust="spacingAndGlyphs">400</text>
<text x="129.10" y="196.20" font-size="12.90" fill="#FF0000" stroke="#FF0000" textLength="28.56" lengthAdjust="spacingAndGlyphs">3420</text>
<text x="207.20" y="204.00" font-size="12.90" fill="#FF0000" stroke="#FF0000" textLength="28.10" lengthAdjust="spacingAndGlyphs">2960</text>
<text x="232.40" y="178.30" font-size="12.90" fill="#FF0000" stroke="#FF0000" textLength="27.91" lengthAdjust="spacingAndGlyphs">2850</text>
<text x="238.00" y="116.40" font-size="12.90" fill="#FF0000" stroke="#FF0000" textLength="27.73" lengthAdjust="spacingAndGlyphs">2485</text>
<text x="261.60" y="135.20" font-size="12.90" fill="#FF0000" stroke="#FF0000" textLength="28.11" lengthAdjust="spacingAndGlyphs">2397</text>
<text x="285.00" y="51.30" font-size="12.90" fill="#FF0000" stroke="#FF0000" textLength="27.64" lengthAdjust="spacingAndGlyphs">2255</text>
<text x="308.00" y="63.80" font-size="12.90" fill="#FF0000" stroke="#FF0000" textLength="26.88" lengthAdjust="spacingAndGlyphs">2175</text>
<text x="319.90" y="266.60" font-size="12.90" fill="#FF0000" stroke="#FF0000" textLength="27.79" lengthAdjust="spacingAndGlyphs">1570</text>
<text x="433.80" y="277.00" font-size="12.90" fill="#FF0000" stroke="#FF0000" textLength="28.14" lengthAdjust="spacingAndGlyphs">1410</text>
<text x="423.00" y="195.00" font-size="12.90" fill="#FF0000" stroke="#FF0000" textLength="27.34" lengthAdjust="spacingAndGlyphs">1099</text>
<text x="429.70" y="230.50" font-size="12.90" fill="#FF0000" stroke="#FF0000" textLength="28.04" lengthAdjust="spacingAndGlyphs">1016</text>
<text x="490.30" y="80.10" font-size="12.90" fill="#FF0000" stroke="#FF0000" textLength="21.33" lengthAdjust="spacingAndGlyphs">900</text>
<text x="500.90" y="115.90" font-size="12.90" fill="#FF0000" stroke="#FF0000" textLength="20.08" lengthAdjust="spacingAndGlyphs">851</text>
<text x="513.50" y="137.50" font-size="12.90" fill="#FF0000" stroke="#FF0000" textLength="21.38" lengthAdjust="spacingAndGlyphs">826</text>
<text x="489.30" y="261.20" font-size="12.90" fill="#FF0000" stroke="#FF0000" textLength="20.74" lengthAdjust="spacingAndGlyphs">650</text>
<text x="502.40" y="239.40" font-size="12.90" fill="#FF0000" stroke="#FF0000" textLength="20.84" lengthAdjust="spacingAndGlyphs">620</text>
<text x="517.60" y="227.20" font-size="12.90" fill="#FF0000" stroke="#FF0000" textLength="19.95" lengthAdjust="spacingAndGlyphs">512</text>
<text x="142.30" y="273.50" font-size="12.90" fill="#002060" stroke="#002060" textLength="27.14" lengthAdjust="spacingAndGlyphs">3400</text>
<text x="299.60" y="165.00" font-size="12.90" fill="#002060" stroke="#002060" textLength="27.68" lengthAdjust="spacingAndGlyphs">2077</text>
<text x="391.00" y="148.60" font-size="12.90" fill="#002060" stroke="#002060" textLength="28.04" lengthAdjust="spacingAndGlyphs">1404</text>
<text x="390.90" y="59.00" font-size="12.90" fill="#002060" stroke="#002060" textLength="28.16" lengthAdjust="spacingAndGlyphs">1310</text>
<text x="419.00" y="47.20" font-size="12.90" fill="#002060" stroke="#002060" textLength="28.49" lengthAdjust="spacingAndGlyphs">1100</text>
<text x="451.60" y="26.50" font-size="12.90" fill="#002060" stroke="#002060" textLength="27.45" lengthAdjust="spacingAndGlyphs">1012</text>
<text x="467.50" y="227.60" font-size="12.90" fill="#002060" stroke="#002060" textLength="19.62" lengthAdjust="spacingAndGlyphs">700</text>
<text x="75.80" y="31.80" font-size="15.70" fill="#002060" stroke="#002060" textLength="156.82" lengthAdjust="spacingAndGlyphs">Plant aqueous extract</text>
<text x="119.40" y="96.70" font-size="14.80" fill="#FF0000" stroke="#FF0000" textLength="61.33" lengthAdjust="spacingAndGlyphs">CuO-NPs</text>
<text transform="translate(450.40,110.30) rotate(-90)" x="0" y="0" font-size="12.90" fill="#FF0000" stroke="#FF0000" textLength="27.36" lengthAdjust="spacingAndGlyphs">1134</text>
<text transform="translate(469.70,165.50) rotate(-90)" x="0" y="0" font-size="12.90" fill="#FF0000" stroke="#FF0000" textLength="19.90" lengthAdjust="spacingAndGlyphs">950</text>
<text transform="translate(476.60,205.70) rotate(-90)" x="0" y="0" font-size="12.90" fill="#FF0000" stroke="#FF0000" textLength="19.53" lengthAdjust="spacingAndGlyphs">863</text>
<text transform="translate(377.40,221.50) rotate(-90)" x="0" y="0" font-size="12.90" fill="#002060" stroke="#002060" textLength="27.79" lengthAdjust="spacingAndGlyphs">1633</text>
<text transform="translate(16.70,208.60) rotate(-90)" x="0" y="0" font-size="15.70" fill="#002060" stroke="#002060" textLength="130.85" lengthAdjust="spacingAndGlyphs">Transmittance (%)</text>
<text x="228.00" y="330.80" font-size="15.70" fill="#002060" stroke="#002060" textLength="144.73" lengthAdjust="spacingAndGlyphs">Wavenumber (cm<tspan dy="-5" font-size="9.73">&#8722;1</tspan><tspan dy="5">)</tspan></text>
</svg>
</body></html>
